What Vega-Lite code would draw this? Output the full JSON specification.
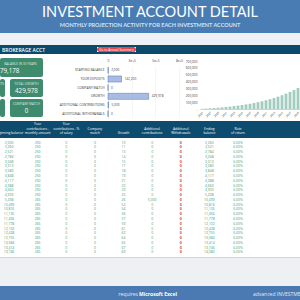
{
  "$schema": "https://vega.github.io/schema/vega-lite/v6.json",
  "padding": 0,
  "background": "#ffffff",
  "spacing": 0,
  "bounds": "full",
  "config": {
    "view": {"stroke": null},
    "concat": {"spacing": 0},
    "font": "Open Sans",
    "text": {"font": "Open Sans"},
    "axis": {"labelFont": "Open Sans", "titleFont": "Open Sans"}
  },
  "vconcat": [
    {
      "width": 300, "height": 33,
      "view": {"fill": "#4a7cb4"},
      "data": {"values": [{"title": "INVESTMENT ACCOUNT DETAIL", "subtitle": "MONTHLY PROJECTION ACTIVITY FOR EACH INVESTMENT ACCOUNT"}]},
      "layer": [
        {"mark": {"type": "text", "font": "Lato", "fontSize": 14.5, "color": "#ffffff", "dy": -3.5, "baseline": "middle"}, "encoding": {"text": {"field": "title"}}},
        {"mark": {"type": "text", "font": "Lato", "fontWeight": "bold", "fontSize": 5.5, "color": "#d3e2f1", "dy": 8.2, "baseline": "middle"}, "encoding": {"text": {"field": "subtitle"}}}
      ]
    },
    {"width": 300, "height": 12, "view": {"fill": "#edf1f5"}, "data": {"values": []}, "mark": "text"},
    {
      "hconcat": [
        {"width": 97, "height": 9, "view": {"fill": "#0c4a6c"}, "data": {"values": [{"t": "BROKERAGE ACCT"}]}, "mark": {"type": "text", "align": "left", "dx": -46.5, "fontSize": 5, "fontWeight": 600, "color": "#ffffff", "baseline": "middle"}, "encoding": {"text": {"field": "t"}}},
        {
          "vconcat": [
            {"width": 39, "height": 2, "view": {"fill": "#0c4a6c"}, "data": {"values": []}, "mark": "text"},
            {"width": 39, "height": 5, "view": {"fill": "#e2474b", "cornerRadius": 2.5}, "data": {"values": [{"t": "Go to Annual Summary"}]}, "mark": {"type": "text", "fontSize": 3.2, "color": "#ffffff", "baseline": "middle"}, "encoding": {"text": {"field": "t"}}},
            {"width": 39, "height": 2, "view": {"fill": "#0c4a6c"}, "data": {"values": []}, "mark": "text"}
          ],
          "spacing": 0, "bounds": "flush"
        },
        {"width": 164, "height": 9, "view": {"fill": "#0c4a6c"}, "data": {"values": []}, "mark": "text"}
      ],
      "spacing": 0, "bounds": "full"
    },
    {
      "hconcat": [
        {
          "vconcat": [
            {"width": 45, "height": 4, "data": {"values": []}, "mark": "text"},
            {
              "hconcat": [
                {
                  "width": 43, "height": 19,
                  "view": {"fill": "#3f8b6e", "cornerRadius": 2},
                  "data": {"values": [{"label": "BALANCE IN 30 YEARS", "value": 779178}]},
                  "layer": [
                    {"mark": {"type": "text", "fontSize": 3.2, "color": "#d8ece3", "dx": -1, "dy": -3.5, "baseline": "middle", "clip": true}, "encoding": {"text": {"field": "label"}}},
                    {"mark": {"type": "text", "fontSize": 6.2, "color": "#ffffff", "align": "left", "dx": -25, "dy": 3, "baseline": "middle", "clip": true}, "encoding": {"text": {"field": "value", "type": "quantitative", "format": ","}}}
                  ]
                },
                {"width": 2, "height": 19, "data": {"values": []}, "mark": "text"}
              ],
              "spacing": 0, "bounds": "flush"
            },
            {"width": 45, "height": 2, "data": {"values": []}, "mark": "text"},
            {
              "hconcat": [
                {
                  "width": 5, "height": 18,
                  "view": {"fill": "#3f8b6e", "cornerRadius": 2},
                  "data": {"values": [{"label": "YOUR DEPOSITS", "value": 142200}]},
                  "layer": [
                    {"mark": {"type": "text", "fontSize": 3.2, "color": "#d8ece3", "align": "right", "dx": 1.5, "dy": -4, "baseline": "middle", "clip": true}, "encoding": {"text": {"field": "label"}}},
                    {"mark": {"type": "text", "fontSize": 6.2, "color": "#ffffff", "align": "right", "dx": -4, "dy": 3, "baseline": "middle", "clip": true}, "encoding": {"text": {"field": "value", "type": "quantitative", "format": ","}}}
                  ]
                },
                {"width": 5, "height": 18, "data": {"values": []}, "mark": "text"},
                {
                  "width": 33, "height": 18,
                  "view": {"fill": "#3f8b6e", "cornerRadius": 2},
                  "data": {"values": [{"label": "TOTAL GROWTH", "value": 429978}]},
                  "layer": [
                    {"mark": {"type": "text", "fontSize": 3.2, "color": "#d8ece3", "dy": -4, "baseline": "middle"}, "encoding": {"text": {"field": "label"}}},
                    {"mark": {"type": "text", "fontSize": 6.2, "color": "#ffffff", "dy": 3, "baseline": "middle"}, "encoding": {"text": {"field": "value", "type": "quantitative", "format": ","}}}
                  ]
                },
                {"width": 2, "height": 18, "data": {"values": []}, "mark": "text"}
              ],
              "spacing": 0, "bounds": "flush"
            },
            {"width": 45, "height": 2, "data": {"values": []}, "mark": "text"},
            {
              "hconcat": [
                {
                  "width": 5, "height": 18,
                  "view": {"fill": "#3f8b6e", "cornerRadius": 2},
                  "data": {"values": [{"label": "ADDITIONAL CONTRIBUTIONS", "value": 5000}]},
                  "layer": [
                    {"mark": {"type": "text", "fontSize": 3.2, "color": "#d8ece3", "align": "right", "dx": -4, "dy": -4, "baseline": "middle", "clip": true}, "encoding": {"text": {"field": "label"}}},
                    {"mark": {"type": "text", "fontSize": 6.2, "color": "#ffffff", "align": "right", "dx": -4, "dy": 3, "baseline": "middle", "clip": true}, "encoding": {"text": {"field": "value", "type": "quantitative", "format": ","}}}
                  ]
                },
                {"width": 5, "height": 18, "data": {"values": []}, "mark": "text"},
                {
                  "width": 33, "height": 18,
                  "view": {"fill": "#3f8b6e", "cornerRadius": 2},
                  "data": {"values": [{"label": "COMPANY MATCH", "value": 0}]},
                  "layer": [
                    {"mark": {"type": "text", "fontSize": 3.2, "color": "#d8ece3", "dy": -4, "baseline": "middle"}, "encoding": {"text": {"field": "label"}}},
                    {"mark": {"type": "text", "fontSize": 6.2, "color": "#ffffff", "dy": 2.7, "baseline": "middle"}, "encoding": {"text": {"field": "value", "type": "quantitative", "format": ","}}}
                  ]
                },
                {"width": 2, "height": 18, "data": {"values": []}, "mark": "text"}
              ],
              "spacing": 0, "bounds": "flush"
            },
            {"width": 45, "height": 3, "data": {"values": []}, "mark": "text"}
          ],
          "spacing": 0, "bounds": "full"
        },
        {
          "vconcat": [
            {"width": 134, "height": 11.5, "data": {"values": []}, "mark": "text"},
            {
              "width": 134, "height": 52,
              "data": {"values": [
                {"cat": "STARTING BALANCE", "amt": 2000},
                {"cat": "YOUR DEPOSITS", "amt": 142200},
                {"cat": "COMPANY MATCH", "amt": 0},
                {"cat": "GROWTH", "amt": 429978},
                {"cat": "ADDITIONAL CONTRIBUTIONS", "amt": 5000},
                {"cat": "ADDITIONAL WITHDRAWALS", "amt": 0}
              ]},
              "encoding": {
                "y": {"field": "cat", "type": "nominal", "sort": null, "scale": {"paddingInner": 0.3, "paddingOuter": 0.15},
                      "axis": {"title": null, "offset": -63, "labelFontSize": 3.2, "labelColor": "#404040", "ticks": false, "domain": true, "domainColor": "#d9d9d9", "domainWidth": 0.6, "labelPadding": 4}},
                "x": {"field": "amt", "type": "quantitative", "scale": {"domain": [0, 750000], "range": [63, 134]},
                      "axis": {"orient": "top", "title": null, "values": [0, 250000, 500000, 750000], "format": ",", "labelFontSize": 3.2, "labelColor": "#404040", "labelFlush": false, "ticks": false, "domain": false, "grid": true, "gridColor": "#ececec", "gridWidth": 0.5, "labelPadding": 3.5}}
              },
              "layer": [
                {"mark": {"type": "bar", "color": "#a8bce3", "stroke": "#4f74b8", "strokeWidth": 0.5}},
                {"mark": {"type": "text", "align": "left", "dx": 3, "fontSize": 3.2, "color": "#404040"}, "encoding": {"text": {"field": "amt", "type": "quantitative", "format": ","}}}
              ]
            },
            {"width": 134, "height": 2.5, "data": {"values": []}, "mark": "text"}
          ],
          "spacing": 0, "bounds": "flush"
        },
        {
          "vconcat": [
            {"width": 121, "height": 7, "data": {"values": []}, "mark": "text"},
            {
              "width": 121, "height": 48,
              "data": {"values": [
                {"yr": "2025", "bal": 3120}, {"yr": "2026", "bal": 6450}, {"yr": "2027", "bal": 10130},
                {"yr": "2028", "bal": 14380}, {"yr": "2029", "bal": 18950}, {"yr": "2030", "bal": 24060},
                {"yr": "2031", "bal": 29710}, {"yr": "2032", "bal": 35920}, {"yr": "2033", "bal": 42700},
                {"yr": "2034", "bal": 50080}, {"yr": "2035", "bal": 58090}, {"yr": "2036", "bal": 66750},
                {"yr": "2037", "bal": 76000}, {"yr": "2038", "bal": 87000}, {"yr": "2039", "bal": 99500},
                {"yr": "2040", "bal": 113000}, {"yr": "2041", "bal": 127500}, {"yr": "2042", "bal": 143500},
                {"yr": "2043", "bal": 161000}, {"yr": "2044", "bal": 180000}, {"yr": "2045", "bal": 201000},
                {"yr": "2046", "bal": 224000}, {"yr": "2047", "bal": 249000}, {"yr": "2048", "bal": 276000},
                {"yr": "2049", "bal": 306000}, {"yr": "2050", "bal": 338000}
              ]},
              "mark": {"type": "bar", "color": "#a2ccbf"},
              "encoding": {
                "x": {"field": "yr", "type": "ordinal", "scale": {"range": [17, 121], "paddingInner": 0.3, "paddingOuter": 0.15},
                      "axis": {"title": null, "labelAngle": -45, "labelFontSize": 2.8, "labelColor": "#505050", "ticks": false, "domain": true, "domainColor": "#d0d0d0", "labelPadding": 2,
                               "values": ["2025", "2027", "2029", "2031", "2033", "2035", "2037", "2039", "2041", "2043", "2045", "2047", "2049"]}},
                "y": {"field": "bal", "type": "quantitative", "scale": {"domain": [0, 700000]},
                      "axis": {"title": null, "offset": -17, "values": [0, 100000, 200000, 300000, 400000, 500000, 600000, 700000], "labelExpr": "datum.value == 0 ? '-' : format(datum.value, ',')", "labelFontSize": 3.2, "labelColor": "#404040", "ticks": false, "domain": false, "grid": false, "labelPadding": 3}}
              }
            },
            {"width": 121, "height": 11, "data": {"values": []}, "mark": "text"}
          ],
          "spacing": 0, "bounds": "flush"
        }
      ],
      "spacing": 0, "bounds": "full"
    },
    {
      "hconcat": [
        {
          "width": 247, "height": 17,
          "view": {"fill": "#0d4c6e"},
          "data": {"values": [
            {"col": "begin", "line": 3, "t": "Beginning balance"},
            {"col": "contrib", "line": 1, "t": "Your"},
            {"col": "contrib", "line": 2, "t": "contributions -"},
            {"col": "contrib", "line": 3, "t": "monthly amount"},
            {"col": "pct", "line": 1, "t": "Your"},
            {"col": "pct", "line": 2, "t": "contributions - %"},
            {"col": "pct", "line": 3, "t": "of salary"},
            {"col": "match", "line": 2, "t": "Company"},
            {"col": "match", "line": 3, "t": "match"},
            {"col": "growth", "line": 3, "t": "Growth"},
            {"col": "addl", "line": 2, "t": "Additional"},
            {"col": "addl", "line": 3, "t": "contributions"},
            {"col": "wd", "line": 2, "t": "Additional"},
            {"col": "wd", "line": 3, "t": "Withdrawals"},
            {"col": "end", "line": 2, "t": "Ending"},
            {"col": "end", "line": 3, "t": "balance"},
            {"col": "rate", "line": 2, "t": "Rate"},
            {"col": "rate", "line": 3, "t": "of return"}
          ]},
          "mark": {"type": "text", "fontSize": 3.3, "color": "#ffffff", "dy": -0.8, "baseline": "middle", "clip": true},
          "encoding": {
            "x": {"field": "col", "type": "nominal", "scale": {"type": "point", "domain": ["begin", "contrib", "pct", "match", "growth", "addl", "wd", "end", "rate"], "padding": 0.315}, "axis": null},
            "y": {"field": "line", "type": "ordinal", "scale": {"type": "point", "padding": 0.95}, "axis": null},
            "text": {"field": "t"}
          }
        },
        {"width": 53, "height": 17, "view": {"fill": "#0d4c6e"}, "data": {"values": []}, "mark": "text"}
      ],
      "spacing": 0, "bounds": "flush"
    },
    {
      "hconcat": [
        {
          "width": 247, "height": 119,
          "data": {"values": [
            {"m": 1, "begin": 2000, "contrib": 250, "pct": 0, "match": 0, "growth": 10, "addl": 0, "wd": 0, "end": 2260, "rate": 0.06},
            {"m": 2, "begin": 2260, "contrib": 250, "pct": 0, "match": 0, "growth": 11, "addl": 0, "wd": 0, "end": 2521, "rate": 0.06},
            {"m": 3, "begin": 2521, "contrib": 250, "pct": 0, "match": 0, "growth": 13, "addl": 0, "wd": 0, "end": 2784, "rate": 0.06},
            {"m": 4, "begin": 2784, "contrib": 250, "pct": 0, "match": 0, "growth": 14, "addl": 0, "wd": 0, "end": 3048, "rate": 0.06},
            {"m": 5, "begin": 3048, "contrib": 250, "pct": 0, "match": 0, "growth": 15, "addl": 0, "wd": 0, "end": 3313, "rate": 0.06},
            {"m": 6, "begin": 3313, "contrib": 250, "pct": 0, "match": 0, "growth": 17, "addl": 0, "wd": 0, "end": 3580, "rate": 0.06},
            {"m": 7, "begin": 3580, "contrib": 250, "pct": 0, "match": 0, "growth": 18, "addl": 0, "wd": 0, "end": 3848, "rate": 0.06},
            {"m": 8, "begin": 3848, "contrib": 250, "pct": 0, "match": 0, "growth": 19, "addl": 0, "wd": 0, "end": 4117, "rate": 0.06},
            {"m": 9, "begin": 4117, "contrib": 250, "pct": 0, "match": 0, "growth": 21, "addl": 0, "wd": 0, "end": 4388, "rate": 0.06},
            {"m": 10, "begin": 4388, "contrib": 250, "pct": 0, "match": 0, "growth": 22, "addl": 0, "wd": 0, "end": 4660, "rate": 0.06},
            {"m": 11, "begin": 4660, "contrib": 250, "pct": 0, "match": 0, "growth": 23, "addl": 0, "wd": 0, "end": 4933, "rate": 0.06},
            {"m": 12, "begin": 4933, "contrib": 250, "pct": 0, "match": 0, "growth": 25, "addl": 0, "wd": 0, "end": 5208, "rate": 0.06},
            {"m": 13, "begin": 5208, "contrib": 265, "pct": 0, "match": 0, "growth": 26, "addl": 5000, "wd": 0, "end": 10499, "rate": 0.06},
            {"m": 14, "begin": 10499, "contrib": 265, "pct": 0, "match": 0, "growth": 52, "addl": 0, "wd": 0, "end": 10816, "rate": 0.06},
            {"m": 15, "begin": 10816, "contrib": 265, "pct": 0, "match": 0, "growth": 54, "addl": 0, "wd": 0, "end": 11135, "rate": 0.06},
            {"m": 16, "begin": 11135, "contrib": 265, "pct": 0, "match": 0, "growth": 56, "addl": 0, "wd": 0, "end": 11456, "rate": 0.06},
            {"m": 17, "begin": 11456, "contrib": 265, "pct": 0, "match": 0, "growth": 57, "addl": 0, "wd": 0, "end": 11778, "rate": 0.06},
            {"m": 18, "begin": 11778, "contrib": 265, "pct": 0, "match": 0, "growth": 59, "addl": 0, "wd": 0, "end": 12102, "rate": 0.06},
            {"m": 19, "begin": 12102, "contrib": 265, "pct": 0, "match": 0, "growth": 61, "addl": 0, "wd": 0, "end": 12428, "rate": 0.06},
            {"m": 20, "begin": 12428, "contrib": 265, "pct": 0, "match": 0, "growth": 62, "addl": 0, "wd": 0, "end": 12755, "rate": 0.06},
            {"m": 21, "begin": 12755, "contrib": 265, "pct": 0, "match": 0, "growth": 64, "addl": 0, "wd": 0, "end": 13084, "rate": 0.06},
            {"m": 22, "begin": 13084, "contrib": 265, "pct": 0, "match": 0, "growth": 65, "addl": 0, "wd": 0, "end": 13414, "rate": 0.06},
            {"m": 23, "begin": 13414, "contrib": 265, "pct": 0, "match": 0, "growth": 67, "addl": 0, "wd": 0, "end": 13746, "rate": 0.06},
            {"m": 24, "begin": 13746, "contrib": 265, "pct": 0, "match": 0, "growth": 69, "addl": 0, "wd": 0, "end": 14080, "rate": 0.06}
          ]},
          "encoding": {
            "y": {"field": "m", "type": "ordinal", "scale": {"type": "point", "padding": 0.95}, "axis": null},
            "x": {"field": "col", "type": "nominal", "scale": {"type": "point", "domain": ["begin", "contrib", "pct", "match", "growth", "addl", "wd", "end", "rate"], "padding": 0.315}, "axis": null}
          },
          "layer": [
            {
              "transform": [{"fold": ["begin", "contrib", "pct", "match", "growth", "addl", "end"], "as": ["col", "val"]}],
              "mark": {"type": "text", "fontSize": 3.4, "color": "#3f9b72", "baseline": "middle", "clip": true},
              "encoding": {"text": {"field": "val", "type": "quantitative", "format": ","}}
            },
            {
              "transform": [{"fold": ["wd"], "as": ["col", "val"]}],
              "mark": {"type": "text", "fontSize": 3.6, "fontWeight": "bold", "color": "#d63a3a", "baseline": "middle"},
              "encoding": {"text": {"field": "val", "type": "quantitative", "format": ","}}
            },
            {
              "transform": [{"fold": ["rate"], "as": ["col", "val"]}],
              "mark": {"type": "text", "fontSize": 3.4, "color": "#3f9b72", "baseline": "middle"},
              "encoding": {"text": {"field": "val", "type": "quantitative", "format": ".2%"}}
            }
          ]
        },
        {"width": 53, "height": 119, "data": {"values": []}, "mark": "text"}
      ],
      "spacing": 0, "bounds": "flush"
    },
    {"width": 300, "height": 1, "view": {"fill": "#c9d7e4"}, "data": {"values": []}, "mark": "text"},
    {"width": 300, "height": 28, "view": {"fill": "#eef1f4"}, "data": {"values": []}, "mark": "text"},
    {
      "width": 300, "height": 15,
      "view": {"fill": "#4a7ab1"},
      "data": {"values": [{"a": "requires", "b": "Microsoft Excel", "c": "advanced INVESTMENT"}]},
      "layer": [
        {"mark": {"type": "text", "fontSize": 5, "color": "#e3ecf6", "align": "right", "dx": -12, "dy": 0.8, "baseline": "middle"}, "encoding": {"text": {"field": "a"}}},
        {"mark": {"type": "text", "fontSize": 5, "fontWeight": "bold", "color": "#ffffff", "align": "left", "dx": -11, "dy": 0.8, "baseline": "middle"}, "encoding": {"text": {"field": "b"}}},
        {"mark": {"type": "text", "fontSize": 5, "color": "#e3ecf6", "align": "left", "dx": 103, "dy": 0.8, "baseline": "middle", "clip": true}, "encoding": {"text": {"field": "c"}}}
      ]
    }
  ]
}
